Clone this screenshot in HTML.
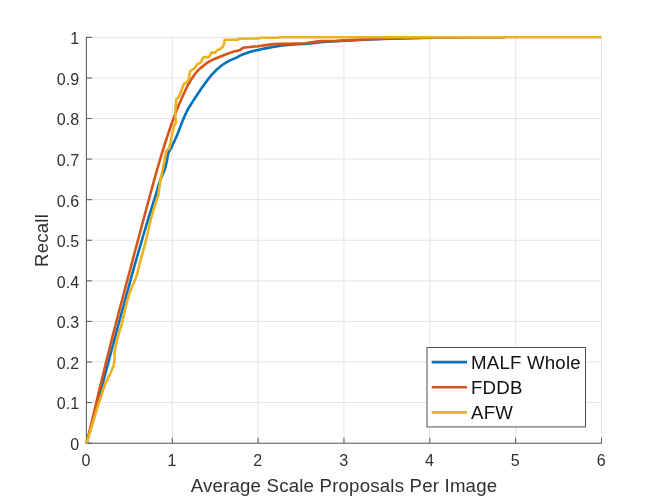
<!DOCTYPE html>
<html><head><meta charset="utf-8"><title>Recall vs Average Scale Proposals Per Image</title>
<style>
html,body{margin:0;padding:0;background:#fff;}
svg{display:block;}
text{font-family:"Liberation Sans",sans-serif;fill:#303030;}
</style></head><body>
<svg width="664" height="502" viewBox="0 0 664 502">
<rect width="664" height="502" fill="#fff"/>
<g stroke="#dcdfe1" stroke-width="0.85" fill="none">
<line x1="86.40" y1="37.35" x2="86.40" y2="443.15"/>
<line x1="172.25" y1="37.35" x2="172.25" y2="443.15"/>
<line x1="258.10" y1="37.35" x2="258.10" y2="443.15"/>
<line x1="343.95" y1="37.35" x2="343.95" y2="443.15"/>
<line x1="429.80" y1="37.35" x2="429.80" y2="443.15"/>
<line x1="515.65" y1="37.35" x2="515.65" y2="443.15"/>
<line x1="601.50" y1="37.35" x2="601.50" y2="443.15"/>
<line x1="86.4" y1="443.15" x2="601.5" y2="443.15"/>
<line x1="86.4" y1="402.57" x2="601.5" y2="402.57"/>
<line x1="86.4" y1="361.99" x2="601.5" y2="361.99"/>
<line x1="86.4" y1="321.41" x2="601.5" y2="321.41"/>
<line x1="86.4" y1="280.83" x2="601.5" y2="280.83"/>
<line x1="86.4" y1="240.25" x2="601.5" y2="240.25"/>
<line x1="86.4" y1="199.67" x2="601.5" y2="199.67"/>
<line x1="86.4" y1="159.09" x2="601.5" y2="159.09"/>
<line x1="86.4" y1="118.51" x2="601.5" y2="118.51"/>
<line x1="86.4" y1="77.93" x2="601.5" y2="77.93"/>
<line x1="86.4" y1="37.35" x2="601.5" y2="37.35"/>
</g>
<g stroke="#5c5c5c" stroke-width="1.05" fill="none">
<line x1="86.4" y1="36.85" x2="86.4" y2="443.65"/>
<line x1="85.9" y1="443.15" x2="602.0" y2="443.15"/>
<line x1="86.40" y1="443.15" x2="86.40" y2="437.65"/>
<line x1="172.25" y1="443.15" x2="172.25" y2="437.65"/>
<line x1="258.10" y1="443.15" x2="258.10" y2="437.65"/>
<line x1="343.95" y1="443.15" x2="343.95" y2="437.65"/>
<line x1="429.80" y1="443.15" x2="429.80" y2="437.65"/>
<line x1="515.65" y1="443.15" x2="515.65" y2="437.65"/>
<line x1="601.50" y1="443.15" x2="601.50" y2="437.65"/>
<line x1="86.4" y1="443.15" x2="91.9" y2="443.15"/>
<line x1="86.4" y1="402.57" x2="91.9" y2="402.57"/>
<line x1="86.4" y1="361.99" x2="91.9" y2="361.99"/>
<line x1="86.4" y1="321.41" x2="91.9" y2="321.41"/>
<line x1="86.4" y1="280.83" x2="91.9" y2="280.83"/>
<line x1="86.4" y1="240.25" x2="91.9" y2="240.25"/>
<line x1="86.4" y1="199.67" x2="91.9" y2="199.67"/>
<line x1="86.4" y1="159.09" x2="91.9" y2="159.09"/>
<line x1="86.4" y1="118.51" x2="91.9" y2="118.51"/>
<line x1="86.4" y1="77.93" x2="91.9" y2="77.93"/>
<line x1="86.4" y1="37.35" x2="91.9" y2="37.35"/>
</g>
<polyline points="86.5,443.3 88.8,435.0 91.6,425.0 94.3,415.0 97.0,405.0 99.7,395.0 102.4,385.0 105.0,375.0 107.7,365.0 110.3,355.0 113.0,345.0 115.7,335.0 118.3,325.0 121.0,315.0 123.7,305.0 126.4,295.0 129.2,285.0 131.9,275.0 134.7,265.0 137.6,255.0 140.5,245.0 143.4,235.0 146.4,225.0 149.5,215.0 152.6,205.0 155.8,195.0 158.6,185.0 161.5,177.0 163.8,172.0 165.7,166.0 167.0,160.4 167.7,155.3 168.9,151.7 171.1,148.1 173.0,143.8 175.0,139.8 177.0,135.4 179.0,130.2 181.0,124.9 183.0,119.8 185.0,115.2 187.0,111.0 189.0,107.4 191.0,104.2 193.0,101.1 195.0,98.0 197.0,95.0 199.0,92.0 201.0,89.0 203.0,86.2 205.0,83.4 207.0,80.7 209.0,78.1 211.0,75.7 213.0,73.4 215.0,71.3 218.0,68.4 221.0,66.0 224.0,63.8 227.0,62.0 230.0,60.4 234.0,58.6 238.0,57.0 240.0,55.5 246.0,53.3 252.0,51.3 258.0,49.9 264.1,48.6 273.0,47.0 282.2,45.5 290.0,44.6 298.0,44.2 305.0,43.9 312.0,43.1 320.0,42.1 336.0,41.3 350.0,40.5 370.0,39.4 390.0,38.7 410.0,38.1 435.0,37.6 470.0,37.3 505.0,37.3" fill="none" stroke="#0072bd" stroke-width="2.6" stroke-linejoin="round"/>
<polyline points="86.5,443.3 88.6,435.0 91.0,425.0 93.4,415.0 95.8,405.0 98.1,395.0 100.5,385.0 103.0,375.0 105.4,365.0 107.9,355.0 110.4,345.0 112.9,335.0 115.5,325.0 118.1,315.0 120.7,305.0 123.4,295.0 126.0,285.0 128.7,275.0 131.4,265.0 134.0,255.0 136.7,245.0 139.4,235.0 142.0,225.0 144.7,215.0 147.4,205.0 150.1,195.0 152.8,185.0 155.6,175.0 158.5,165.0 161.4,155.0 164.5,145.0 167.8,135.0 171.2,125.0 174.8,115.0 178.8,105.0 183.2,95.0 187.9,85.0 190.0,81.5 192.5,77.6 195.0,74.0 197.5,71.0 200.0,68.6 202.5,66.5 205.0,64.4 207.5,62.6 210.0,61.2 212.5,59.9 215.0,58.8 217.5,57.7 220.0,56.7 222.5,55.7 225.0,54.7 227.5,53.8 230.0,52.9 232.5,52.0 235.0,51.1 237.0,51.0 240.0,50.1 243.0,47.8 250.0,47.0 258.1,46.2 266.0,45.1 273.7,44.1 281.0,43.8 288.2,43.7 296.0,43.6 305.0,43.3 312.0,42.3 320.0,41.1 336.0,40.9 350.0,40.1 370.0,39.1 390.0,38.4 410.0,37.9 435.0,37.5 470.0,37.3 505.0,37.3" fill="none" stroke="#d95319" stroke-width="2.6" stroke-linejoin="round"/>
<polyline points="86.5,443.3 99.0,402.5 104.7,385.0 110.5,373.2 113.5,366.0 114.5,361.1 114.5,352.7 116.5,341.9 118.9,333.4 121.5,325.0 127.1,301.1 128.9,295.1 132.5,285.5 134.9,280.7 137.3,273.4 139.3,265.0 146.1,240.2 150.4,220.7 154.9,205.0 156.5,200.0 158.1,196.0 160.2,181.7 162.4,170.8 164.4,160.5 164.8,158.0 166.0,151.7 167.8,149.2 169.3,148.8 170.0,144.5 171.5,137.2 172.2,133.6 172.9,130.0 174.1,125.8 176.1,122.6 175.5,117.9 175.3,112.1 175.9,104.8 176.1,99.4 178.4,97.3 180.1,94.0 181.8,89.1 183.9,84.0 186.5,82.2 188.5,80.4 189.4,75.4 190.4,70.7 193.0,69.6 195.1,67.8 196.9,64.5 199.1,63.4 201.3,62.0 202.9,57.8 204.7,57.1 209.0,57.1 211.5,52.4 215.2,52.8 217.3,49.9 219.9,49.2 223.1,46.3 224.2,43.7 224.6,39.8 237.9,39.8 239.0,38.7 258.9,38.4 260.7,37.8 277.9,37.7 279.7,37.3 601.5,37.3" fill="none" stroke="#edb120" stroke-width="2.6" stroke-linejoin="round"/>
<g font-size="16px" letter-spacing="0.1">
<text x="86.10" y="466.4" text-anchor="middle">0</text>
<text x="171.95" y="466.4" text-anchor="middle">1</text>
<text x="257.80" y="466.4" text-anchor="middle">2</text>
<text x="343.65" y="466.4" text-anchor="middle">3</text>
<text x="429.50" y="466.4" text-anchor="middle">4</text>
<text x="515.35" y="466.4" text-anchor="middle">5</text>
<text x="601.20" y="466.4" text-anchor="middle">6</text>
<text x="79.3" y="450.05" text-anchor="end">0</text>
<text x="79.3" y="409.47" text-anchor="end">0.1</text>
<text x="79.3" y="368.89" text-anchor="end">0.2</text>
<text x="79.3" y="328.31" text-anchor="end">0.3</text>
<text x="79.3" y="287.73" text-anchor="end">0.4</text>
<text x="79.3" y="247.15" text-anchor="end">0.5</text>
<text x="79.3" y="206.57" text-anchor="end">0.6</text>
<text x="79.3" y="165.99" text-anchor="end">0.7</text>
<text x="79.3" y="125.41" text-anchor="end">0.8</text>
<text x="79.3" y="84.83" text-anchor="end">0.9</text>
<text x="79.3" y="44.25" text-anchor="end">1</text>
</g>
<text x="344" y="491.6" text-anchor="middle" font-size="18.67px" letter-spacing="0.19">Average Scale Proposals Per Image</text>
<text transform="translate(47.8,240.5) rotate(-90)" text-anchor="middle" font-size="18.67px" letter-spacing="0.2">Recall</text>
<g>
<rect x="427" y="347.45" width="158.5" height="79.5" fill="#fff" stroke="#3c3c3c" stroke-width="0.9"/>
<line x1="431.7" y1="362.1" x2="467" y2="362.1" stroke="#0072bd" stroke-width="2.6"/>
<line x1="431.7" y1="387.2" x2="467" y2="387.2" stroke="#d95319" stroke-width="2.6"/>
<line x1="431.7" y1="412.4" x2="467" y2="412.4" stroke="#edb120" stroke-width="2.6"/>
<g font-size="18.67px" fill="#000" letter-spacing="0.2">
<text x="471" y="368.7" style="fill:#111">MALF Whole</text>
<text x="471" y="394" style="fill:#111">FDDB</text>
<text x="471" y="419.2" style="fill:#111">AFW</text>
</g>
</g>
</svg>
</body></html>
